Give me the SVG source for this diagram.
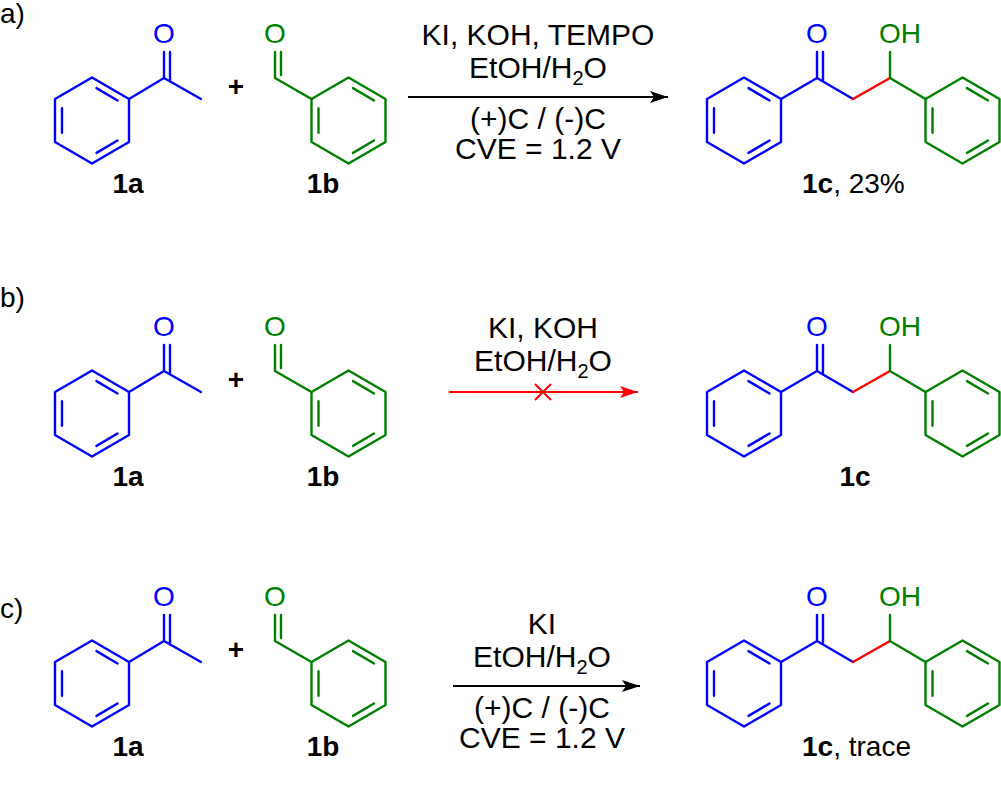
<svg xmlns="http://www.w3.org/2000/svg" xmlns:xlink="http://www.w3.org/1999/xlink" width="1001" height="788" viewBox="0 0 1001 788">
<style>
text{font-family:"Liberation Sans",Arial,sans-serif;font-size:28px;fill:#000}
.b{stroke:#0000ff;fill:none;stroke-width:2.4;stroke-linecap:round;stroke-linejoin:round}
.g{stroke:#008000;fill:none;stroke-width:2.4;stroke-linecap:round;stroke-linejoin:round}
.r{stroke:#ff0000;fill:none;stroke-width:2.4;stroke-linecap:round}
.bt{fill:#0000ff}.gt{fill:#008000}
.lbl{font-weight:bold;text-anchor:middle}
.cond{text-anchor:middle;font-size:30px}
.arr{stroke:#000;stroke-width:2}
</style>
<defs>
<g id="ring">
<path d="M0,-43 L37,-21.5 L37,21.5 L0,43 L-37,21.5 L-37,-21.5 Z M-30,-12.2 L-30,12.2 M4.5,-32.4 L25.5,-20 M25.5,20 L4.5,32.4"/>
</g>
<g id="m1a" class="b">
<use xlink:href="#ring" x="92" y="120.5"/>
<path d="M129,99 L164,78 L201,99 M164,78 L164,52 M170,81 L170,52"/>
<text x="164" y="43" class="bt" text-anchor="middle" stroke="none">O</text>
</g>
<g id="m1b" class="g">
<use xlink:href="#ring" x="348.5" y="120.5"/>
<path d="M311.5,99 L275,78 L275,52 M281,75 L281,52"/>
<text x="275" y="43" class="gt" text-anchor="middle" stroke="none">O</text>
</g>
<g id="m1c">
<g class="b">
<use xlink:href="#ring" x="744" y="120.5"/>
<path d="M781,99 L817,78 L853,99 M817,78 L817,52 M823,81 L823,52"/>
<text x="817" y="43" class="bt" text-anchor="middle" stroke="none">O</text>
</g>
<path class="r" d="M853,99 L890,78"/>
<g class="g">
<use xlink:href="#ring" x="962.5" y="120.5"/>
<path d="M890,78 L925.5,99 M890,78 L890,52"/>
<text x="879" y="43" class="gt" stroke="none">OH</text>
</g>
</g>
<marker id="ah" markerWidth="20" markerHeight="12" refX="18" refY="6" orient="auto" markerUnits="userSpaceOnUse"><path d="M0,0 L18,6 L0,12 L4,6 Z" fill="#000"/></marker>
<marker id="ahr" markerWidth="20" markerHeight="12" refX="18" refY="6" orient="auto" markerUnits="userSpaceOnUse"><path d="M0,0 L18,6 L0,12 L4,6 Z" fill="#ff0000"/></marker>
</defs>

<g id="scheme-a">
<text x="0" y="23">a)</text>
<use id="a-1a" xlink:href="#m1a"/>
<text x="236" y="96" class="lbl">+</text>
<use id="a-1b" xlink:href="#m1b"/>
<use id="a-1c" xlink:href="#m1c"/>
<text x="128" y="193" class="lbl">1a</text>
<text x="323" y="193" class="lbl">1b</text>
<text x="802" y="193"><tspan font-weight="bold">1c</tspan>, 23%</text>
<text x="538" y="45" class="cond">KI, KOH, TEMPO</text>
<text x="538" y="78" class="cond">EtOH/H<tspan font-size="20" dy="7">2</tspan><tspan dy="-7">O</tspan></text>
<text x="538" y="129" class="cond">(+)C / (-)C</text>
<text x="538" y="159" class="cond">CVE = 1.2 V</text>
</g>

<g id="scheme-b">
<text x="0" y="307">b)</text>
<use id="b-1a" xlink:href="#m1a" y="293"/>
<text x="236" y="389" class="lbl">+</text>
<use id="b-1b" xlink:href="#m1b" y="293"/>
<use id="b-1c" xlink:href="#m1c" y="293"/>
<text x="128" y="486" class="lbl">1a</text>
<text x="323" y="486" class="lbl">1b</text>
<text x="855" y="486" class="lbl">1c</text>
<text x="543" y="338" class="cond">KI, KOH</text>
<text x="543" y="371" class="cond">EtOH/H<tspan font-size="20" dy="7">2</tspan><tspan dy="-7">O</tspan></text>
</g>

<g id="scheme-c">
<text x="0" y="618">c)</text>
<use id="c-1a" xlink:href="#m1a" y="563"/>
<text x="236" y="659" class="lbl">+</text>
<use id="c-1b" xlink:href="#m1b" y="563"/>
<use id="c-1c" xlink:href="#m1c" y="563"/>
<text x="128" y="756" class="lbl">1a</text>
<text x="323" y="756" class="lbl">1b</text>
<text x="802" y="756"><tspan font-weight="bold">1c</tspan>, trace</text>
<text x="542" y="634" class="cond">KI</text>
<text x="542" y="667" class="cond">EtOH/H<tspan font-size="20" dy="7">2</tspan><tspan dy="-7">O</tspan></text>
<text x="542" y="718" class="cond">(+)C / (-)C</text>
<text x="542" y="748" class="cond">CVE = 1.2 V</text>
</g>

<g id="connectors">
<line class="arr" x1="408" y1="97" x2="668" y2="97" marker-end="url(#ah)"/>
<line x1="449" y1="392" x2="638" y2="392" stroke="#ff0000" stroke-width="2" marker-end="url(#ahr)"/>
<path d="M535,384 L551,400 M551,384 L535,400" stroke="#ff0000" stroke-width="2"/>
<line class="arr" x1="453" y1="686" x2="640" y2="686" marker-end="url(#ah)"/>
</g>
</svg>
